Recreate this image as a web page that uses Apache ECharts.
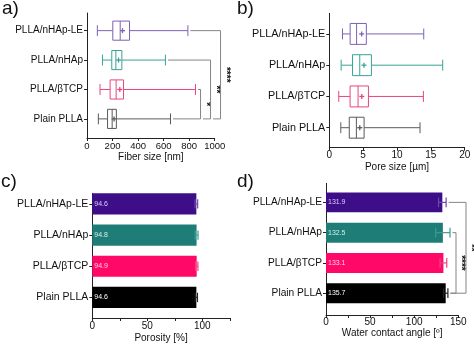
<!DOCTYPE html>
<html><head><meta charset="utf-8">
<script src="https://cdn.jsdelivr.net/npm/echarts@6/dist/echarts.min.js"></script>
<style>html,body{margin:0;padding:0;background:#fff}#c{width:474px;height:349px}</style>
</head><body><div id="c"></div>
<script>
// ---- data (row 0 = bottom) ----
const categories = ['Plain PLLA', 'PLLA/βTCP', 'PLLA/nHAp', 'PLLA/nHAp-LE'];
// a) fiber size [nm]
const fiberLow  = [89, 102, 121, 81];
const fiberQ1   = [161, 181, 194, 202];
const fiberMed  = [197, 228, 226, 260];
const fiberMean = [212, 257, 247, 278];
const fiberQ3   = [230, 286, 273, 333];
const fiberHigh = [654, 850, 614, 790];
const fiberSig  = [[1, 0, '*'], [2, 0, '**'], [3, 0, '****']];
// b) pore size [µm]
const poreLow  = [1.7, 1.4, 1.75, 1.95];
const poreQ1   = [2.95, 3.07, 3.43, 3.08];
const poreMed  = [4.0, 4.25, 4.5, 4.03];
const poreMean = [4.5, 4.8, 5.12, 4.78];
const poreQ3   = [5.14, 5.78, 6.22, 5.47];
const poreHigh = [13.4, 13.9, 16.75, 13.95];
// c) porosity [%]
const porosity    = [94.6, 94.9, 94.8, 94.6];
const porosityErr = [1.0, 1.1, 1.3, 1.2];
// d) water contact angle [º]
const contactAngle = [135.7, 133.1, 132.5, 131.9];
const contactErr   = [2.5, 3.8, 8.1, 4.3];
const angleSig     = [[2, 0, '****'], [3, 0, '**']];

// ---- styles ----
const FONT = '"Liberation Sans", Arial, sans-serif';
const boxColors = ['#5a5a5a', '#e8457f', '#38a396', '#7d62b5'];
const barColors = ['#000000', '#ff0867', '#1f7d78', '#3e0d88'];
const errColors = ['#222222', '#f2407e', '#3b9b93', '#6a4aa8'];
const labelColors = ['#ffffff', '#ffd3e3', '#cff0ec', '#dccfff'];
const AX = '#222';

function catAxis(gridIndex, min, max, fontSize) {
  return {
    type: 'value', gridIndex, min, max,
    axisLine: { show: true, onZero: false, lineStyle: { color: AX, width: 1 } },
    splitLine: { show: false },
    axisTick: { show: true, length: 3, customValues: [0, 1, 2, 3], lineStyle: { color: AX } },
    axisLabel: { customValues: [0, 1, 2, 3], formatter: v => categories[v] || '', fontSize, color: '#111', fontFamily: FONT, margin: 4 }
  };
}
function valAxis(gridIndex, max, interval, labelEvery, name, nameGap, fontSize, margin) {
  return {
    type: 'value', gridIndex, min: 0, max, interval,
    name, nameLocation: 'middle', nameGap,
    nameTextStyle: { fontSize: 10, color: '#111', fontFamily: FONT },
    axisLine: { show: true, onZero: false, lineStyle: { color: AX, width: 1 } },
    splitLine: { show: false },
    axisTick: { show: true, length: 3, lineStyle: { color: AX } },
    axisLabel: { fontSize, color: '#111', fontFamily: FONT, margin, showMaxLabel: true,
      formatter: v => (v % labelEvery === 0 ? String(v) : '') }
  };
}

function boxRender(boxH, capH) {
  return (params, api) => {
    const i = params.dataIndex, yv = api.value(0), col = boxColors[i];
    const P = k => api.coord([api.value(k), yv]);
    const lo = P(1), q1 = P(2), md = P(3), mn = P(4), q3 = P(5), hi = P(6);
    const bh = api.size([0, boxH])[1], ch = api.size([0, capH])[1];
    const y = lo[1];
    const line = (x1, y1, x2, y2, w) => ({ type: 'line', shape: { x1, y1, x2, y2 }, style: { stroke: col, lineWidth: w || 1, fill: null } });
    return { type: 'group', children: [
      line(lo[0], y, q1[0], y), line(q3[0], y, hi[0], y),
      line(lo[0], y - ch / 2, lo[0], y + ch / 2), line(hi[0], y - ch / 2, hi[0], y + ch / 2),
      { type: 'rect', shape: { x: q1[0], y: y - bh / 2, width: q3[0] - q1[0], height: bh }, style: { stroke: col, lineWidth: 1, fill: '#fff' } },
      line(md[0], y - bh / 2, md[0], y + bh / 2),
      line(mn[0] - 2.5, y, mn[0] + 2.5, y, 1.3), line(mn[0], y - 2.5, mn[0], y + 2.5, 1.3)
    ]};
  };
}

function barRender(barH, capH, fontSize) {
  return (params, api) => {
    const i = params.dataIndex, yv = api.value(0), v = api.value(1), e = api.value(2);
    const p0 = api.coord([0, yv]), p1 = api.coord([v, yv]);
    const pl = api.coord([v - e, yv]), ph = api.coord([v + e, yv]);
    const bh = api.size([0, barH])[1], ch = api.size([0, capH])[1];
    const y = p0[1];
    const es = { stroke: errColors[i], lineWidth: 1.2 };
    return { type: 'group', children: [
      { type: 'rect', shape: { x: p0[0], y: y - bh / 2, width: p1[0] - p0[0], height: bh }, style: { fill: barColors[i] } },
      { type: 'line', shape: { x1: pl[0], y1: y, x2: ph[0], y2: y }, style: es },
      { type: 'line', shape: { x1: pl[0], y1: y - ch / 2, x2: pl[0], y2: y + ch / 2 }, style: es },
      { type: 'line', shape: { x1: ph[0], y1: y - ch / 2, x2: ph[0], y2: y + ch / 2 }, style: es },
      { type: 'text', x: p0[0] + 2, y: y, style: { text: v.toFixed(1), fill: labelColors[i], fontSize, fontFamily: FONT, align: 'left', verticalAlign: 'middle' } }
    ]};
  };
}

function sigRender(sig, endFn, firstStep, nestStep, nestLower) {
  return (params, api) => {
    const levels = [];
    let prev = null;
    sig.forEach((s, k) => {
      let m = -Infinity;
      for (let r = Math.min(s[0], s[1]); r <= Math.max(s[0], s[1]); r++) m = Math.max(m, endFn(api, r));
      if (prev !== null) m = Math.max(m, prev);
      const L = m + (k === 0 ? firstStep : nestStep);
      levels.push(L); prev = L;
    });
    const k = params.dataIndex, s = sig[k], L = levels[k];
    const ya = api.coord([0, s[0]])[1], yb = api.coord([0, s[1]])[1];
    const upStart = endFn(api, s[0]) + 2.5;
    const lowStart = (nestLower && k > 0 ? levels[k - 1] : endFn(api, s[1])) + 2.5;
    return { type: 'group', children: [
      { type: 'polyline', shape: { points: [[upStart, ya], [L, ya], [L, yb], [lowStart, yb]] }, style: { stroke: '#858585', lineWidth: 1, fill: null } },
      { type: 'text', x: L + 5, y: (ya + yb) / 2, rotation: -Math.PI / 2,
        style: { text: s[2], fill: '#111', fontSize: 10, fontWeight: 'bold', fontFamily: FONT, align: 'center', verticalAlign: 'middle' } }
    ]};
  };
}

const fiberBox = categories.map((c, i) => [i, fiberLow[i], fiberQ1[i], fiberMed[i], fiberMean[i], fiberQ3[i], fiberHigh[i]]);
const poreBox  = categories.map((c, i) => [i, poreLow[i], poreQ1[i], poreMed[i], poreMean[i], poreQ3[i], poreHigh[i]]);
const porData  = categories.map((c, i) => [i, porosity[i], porosityErr[i]]);
const angData  = categories.map((c, i) => [i, contactAngle[i], contactErr[i]]);

const chart = echarts.init(document.getElementById('c'), null, { renderer: 'canvas' });
chart.setOption({
  animation: false,
  backgroundColor: '#fff',
  textStyle: { fontFamily: FONT },
  grid: [
    { left: 87, top: 13, width: 127.7, height: 125 },
    { left: 329.3, top: 13.3, width: 135.4, height: 134.4 },
    { left: 92.3, top: 193.3, width: 137.5, height: 124.7 },
    { left: 326, top: 183.3, width: 132.3, height: 131.7 }
  ],
  xAxis: [
    valAxis(0, 1000, 200, 200, 'Fiber size [nm]', 14, 9.5, 3),
    valAxis(1, 20, 5, 5, 'Pore size [µm]', 15, 10, 3),
    valAxis(2, 125, 25, 50, 'Porosity [%]', 15, 10, 3),
    valAxis(3, 150, 25, 50, 'Water contact angle [º]', 12, 10, 2)
  ],
  yAxis: [
    catAxis(0, -0.65, 3.6, 10),
    catAxis(1, -0.64, 3.66, 10.8),
    catAxis(2, -0.66, 3.34, 10.5),
    catAxis(3, -0.72, 3.63, 10.2)
  ],
  graphic: [
    { type: 'text', left: 2, top: -1, style: { text: 'a)', font: '19px ' + FONT, fill: '#111' } },
    { type: 'text', left: 237, top: -1, style: { text: 'b)', font: '19px ' + FONT, fill: '#111' } },
    { type: 'text', left: 1, top: 172, style: { text: 'c)', font: '19px ' + FONT, fill: '#111' } },
    { type: 'text', left: 237, top: 172, style: { text: 'd)', font: '19px ' + FONT, fill: '#111' } }
  ],
  series: [
    { type: 'custom', xAxisIndex: 0, yAxisIndex: 0, data: fiberBox, encode: { x: [1, 2, 3, 4, 5, 6], y: 0 }, renderItem: boxRender(0.65, 0.37), silent: true },
    { type: 'custom', xAxisIndex: 0, yAxisIndex: 0, data: fiberSig.map(s => [0, s[0], s[1]]), encode: { x: 0, y: [1, 2] }, clip: false, silent: true,
      renderItem: sigRender(fiberSig, (api, r) => api.coord([fiberHigh[r], r])[0], 5, 10, true) },
    { type: 'custom', xAxisIndex: 1, yAxisIndex: 1, data: poreBox, encode: { x: [1, 2, 3, 4, 5, 6], y: 0 }, renderItem: boxRender(0.67, 0.35), silent: true },
    { type: 'custom', xAxisIndex: 2, yAxisIndex: 2, data: porData, encode: { x: 1, y: 0 }, renderItem: barRender(0.68, 0.3, 7), silent: true },
    { type: 'custom', xAxisIndex: 3, yAxisIndex: 3, data: angData, encode: { x: 1, y: 0 }, renderItem: barRender(0.66, 0.32, 7), silent: true },
    { type: 'custom', xAxisIndex: 3, yAxisIndex: 3, data: angleSig.map(s => [0, s[0], s[1]]), encode: { x: 0, y: [1, 2] }, clip: false, silent: true,
      renderItem: sigRender(angleSig, (api, r) => api.coord([contactAngle[r] + contactErr[r], r])[0], 6, 10, false) }
  ]
});
</script></body></html>
